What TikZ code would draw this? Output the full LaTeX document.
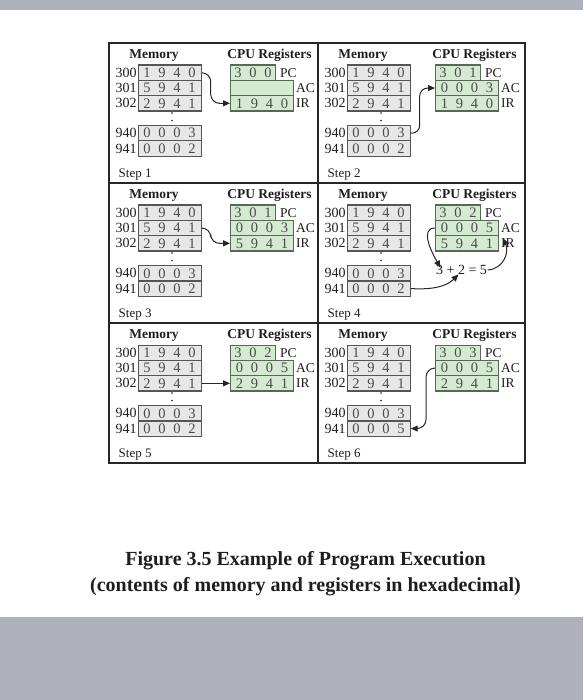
\documentclass[tikz,border=0pt]{standalone}
\usepackage{fontspec}
\setmainfont{Liberation Serif}
\usetikzlibrary{arrows.meta,calc}
\definecolor{band}{RGB}{174,177,187}
\definecolor{memfill}{RGB}{231,231,231}
\definecolor{memdraw}{RGB}{85,85,85}
\definecolor{regfill}{RGB}{212,234,209}
\definecolor{regdraw}{RGB}{85,105,85}
\definecolor{txt}{RGB}{30,30,30}
\def\mydgs#1{\mydgsi#1\relax}
\def\mydgsi#1{\ifx#1\relax\else\makebox[15pt]{#1}\expandafter\mydgsi\fi}
% #1 prefix #2 x0 #3 y0 #4 register offset #5 PC #6 AC #7 IR #8 cell 941 #9 step
\newcommand\mypanel[9]{%
  \node[hdr] (#1hm) at (#2+45,#3+12.5) {Memory};
  \node[hdr] (#1hc) at (#2+#4+39.5,#3+12.5) {CPU Registers};
  \node[mem] (#1m300) at (#2+28.5,#3+21.5) {\mydgs{1940}};
  \node[mem] (#1m301) at (#2+28.5,#3+36.8) {\mydgs{5941}};
  \node[mem] (#1m302) at (#2+28.5,#3+52.1) {\mydgs{2941}};
  \node[mem] (#1m940) at (#2+28.5,#3+82) {\mydgs{0003}};
  \node[mem] (#1m941) at (#2+28.5,#3+97.3) {\mydgs{#8}};
  \fill[txt] (#2+63,#3+70) circle (0.8);
  \fill[txt] (#2+63,#3+77.5) circle (0.8);
  \node[addr] (#1a300) at (#1m300.west) {300};
  \node[addr] (#1a301) at (#1m301.west) {301};
  \node[addr] (#1a302) at (#1m302.west) {302};
  \node[addr] (#1a940) at (#1m940.west) {940};
  \node[addr] (#1a941) at (#1m941.west) {941};
  \node[reg, minimum width=45pt] (#1pc) at (#2+#4,#3+21.5) {\mydgs{#5}};
  \node[reg, minimum width=63pt] (#1ac) at (#2+#4,#3+36.8) {\mydgs{#6}};
  \node[reg, minimum width=63pt] (#1ir) at (#2+#4,#3+52.1) {\mydgs{#7}};
  \node[rlab] (#1lpc) at ([xshift=3pt]#1pc.east) {PC};
  \node[rlab] (#1lac) at ([xshift=1pt]#1ac.east) {AC};
  \node[rlab] (#1lir) at ([xshift=1pt]#1ir.east) {IR};
  \node[steplab] (#1st) at (#2+9.5,#3+132) {Step #9};
}
\begin{document}
\begin{tikzpicture}[x=1pt,y=-1pt,
  hdr/.style={inner sep=0pt, text=txt, font=\fontsize{13.5}{15}\selectfont\bfseries},
  mem/.style={anchor=north west, draw=memdraw, fill=memfill, line width=1.2pt,
    minimum width=63pt, minimum height=15.3pt, inner sep=0pt, text=black!70,
    font=\fontsize{14.5}{16}\selectfont},
  reg/.style={anchor=north west, draw=regdraw, fill=regfill, line width=1.2pt,
    minimum height=15.3pt, inner sep=0pt, text=black!70,
    font=\fontsize{14.5}{16}\selectfont},
  addr/.style={anchor=east, inner sep=0.6pt, text=txt, font=\fontsize{14}{16}\selectfont},
  rlab/.style={anchor=west, inner sep=0.8pt, text=txt, font=\fontsize{13.5}{15}\selectfont},
  steplab/.style={anchor=west, inner sep=0pt, text=txt, font=\fontsize{13}{15}\selectfont},
  calcl/.style={inner sep=0.5pt, text=txt, font=\fontsize{14}{16}\selectfont},
  frame/.style={line width=1.9pt, draw=black!85},
  arr/.style={line width=1pt, draw=black!85, -{Triangle[length=7pt,width=6pt]}},
  captxt/.style={align=center, text=txt, font=\fontsize{20}{26}\selectfont\bfseries}
]
\useasboundingbox (0,0) rectangle (583,700);
\fill[band] (0,0) rectangle (583,10.5);
\fill[band] (0,617) rectangle (583,700);

\mypanel{1}{109}{43}{121}{300}{}{1940}{0002}{1}
\mypanel{2}{318}{43}{117}{301}{0003}{1940}{0002}{2}
\mypanel{3}{109}{183}{121}{301}{0003}{5941}{0002}{3}
\mypanel{4}{318}{183}{117}{302}{0005}{5941}{0002}{4}
\mypanel{5}{109}{323}{121}{302}{0005}{2941}{0002}{5}
\mypanel{6}{318}{323}{117}{303}{0005}{2941}{0005}{6}

\node[calcl] (4calc) at (461.5,270) {3 + 2 = 5};

\draw[frame] (109,43) rectangle (525,463);
\draw[frame] (318,43) -- (318,463);
\draw[frame] (109,183) -- (525,183);
\draw[frame] (109,323) -- (525,323);

% arrows
\draw[arr, rounded corners=9pt] (1m300.east) -- ++(9,0) |- (1ir.west);
\draw[arr, rounded corners=8pt] (2m940.east) -- ++(9,0) |- (2ac.west);
\draw[arr, rounded corners=9pt] (3m301.east) -- ++(9,0) |- (3ir.west);
\draw[arr] (4ac.west) .. controls +(-16,0) and +(-8,-14) .. ($(4calc.north west)+(5,3)$);
\draw[arr] (4m941.east) .. controls +(30,2) and +(-8,8) .. ($(4calc.south)+(-3,-1)$);
\draw[arr] (4calc.east) .. controls +(16,-1) and +(6,14) .. ($(4ac.south east)+(4,2)$);
\draw[arr] (5m302.east) -- (5ir.west);
\draw[arr, rounded corners=9pt] (6ac.west) -- ++(-9,0) |- (6m941.east);

\node[captxt] (caption) at (305.5,574) {Figure 3.5 Example of Program Execution\\(contents of memory and registers in hexadecimal)};
\end{tikzpicture}
\end{document}
